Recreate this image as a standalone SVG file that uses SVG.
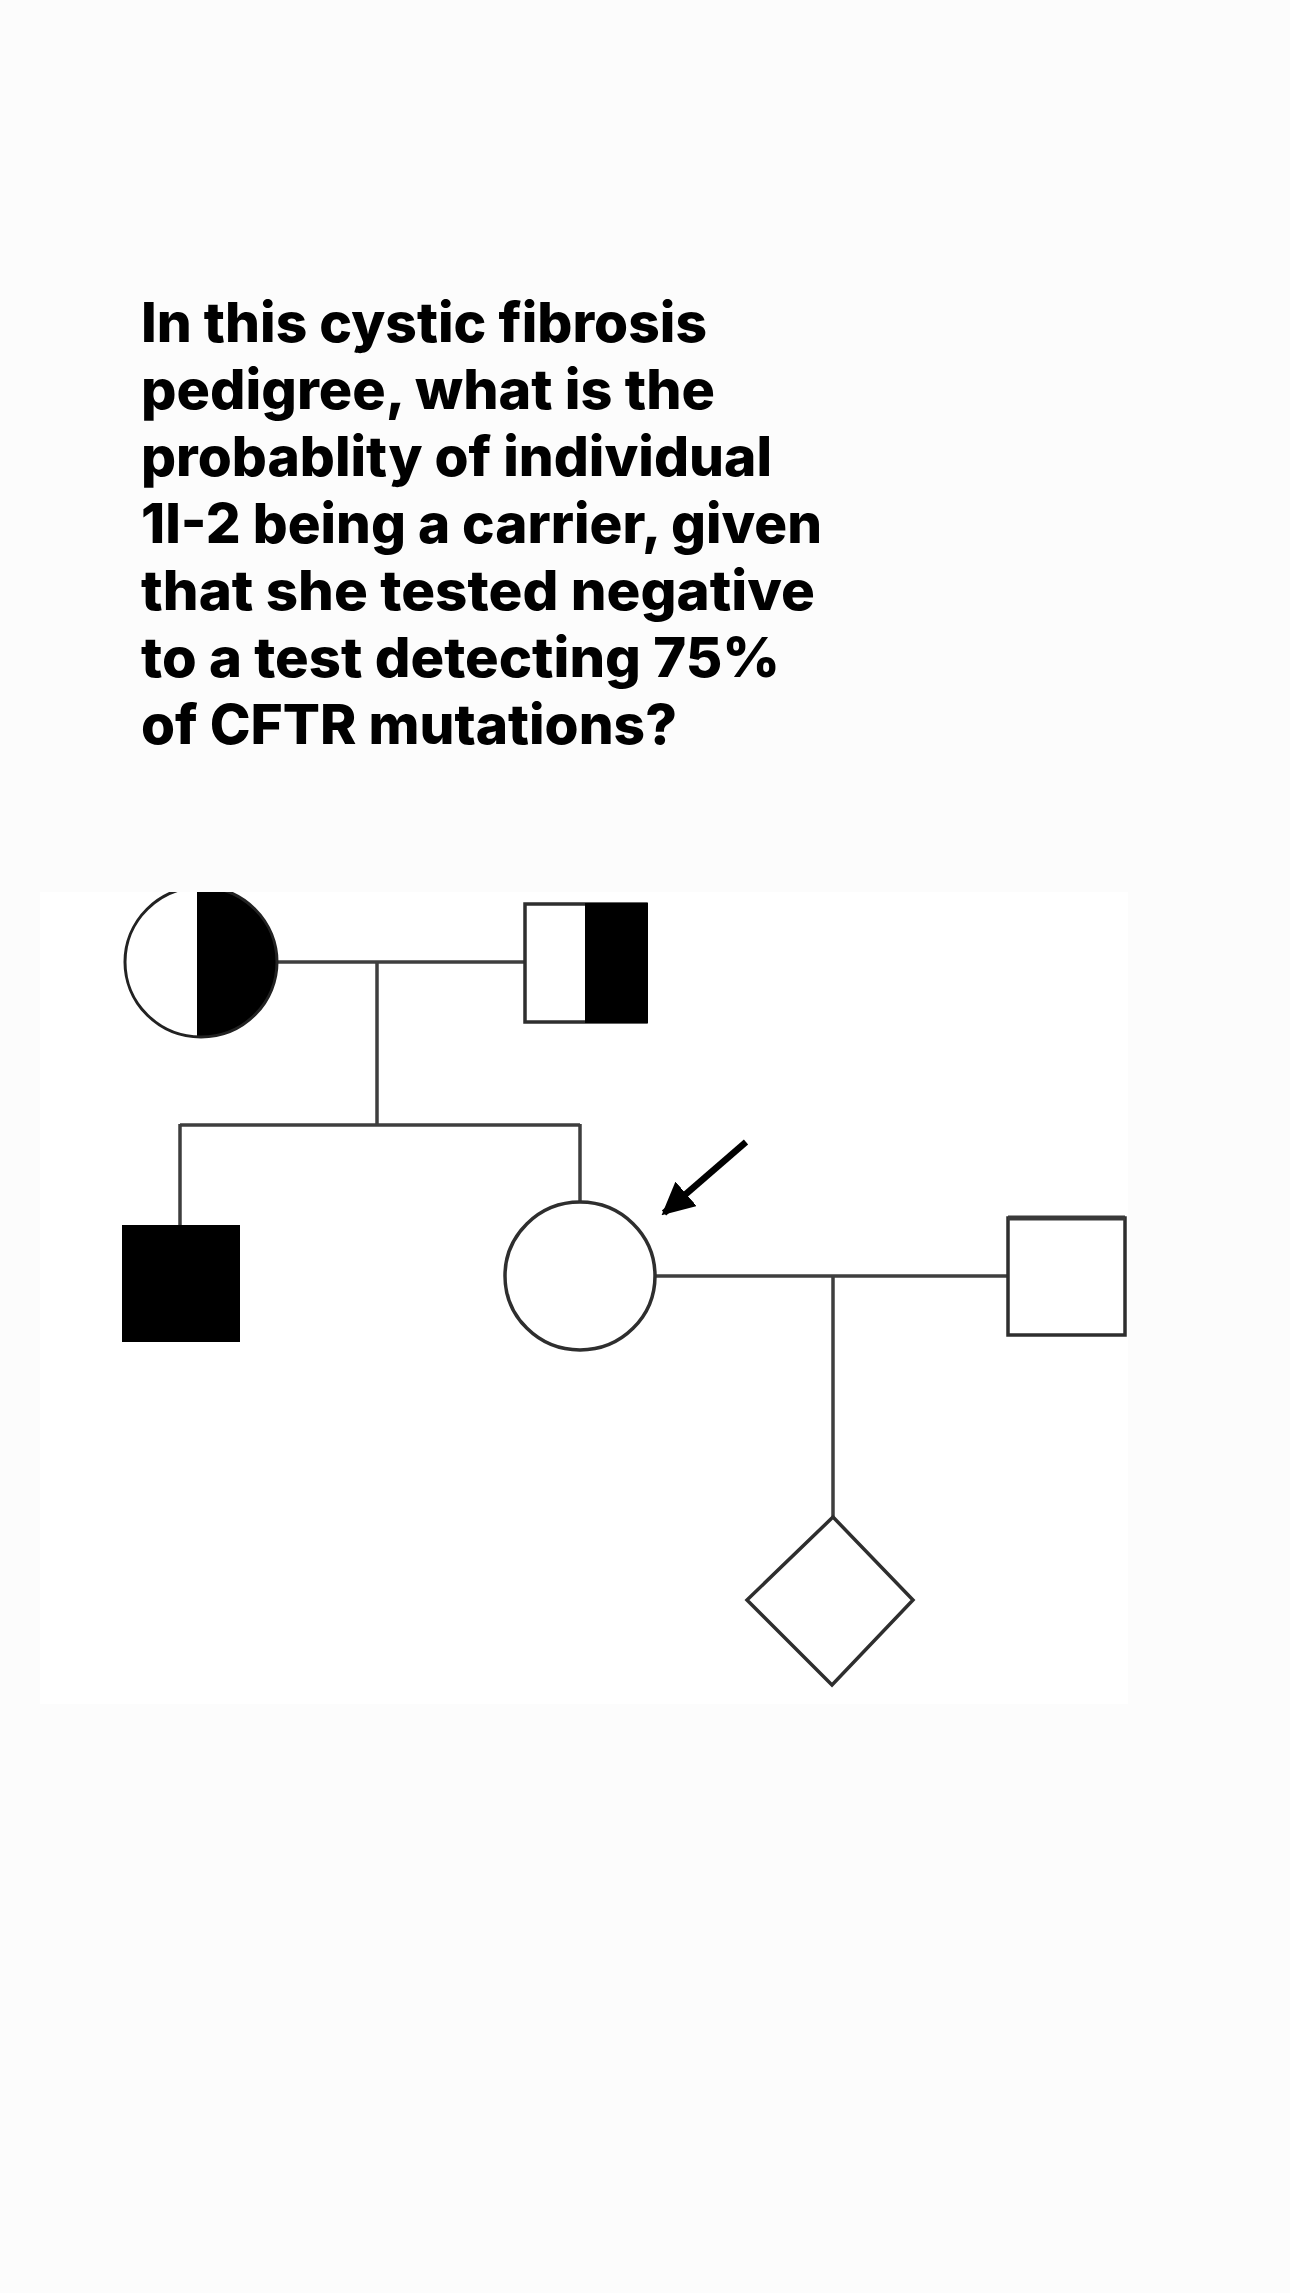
<svg xmlns="http://www.w3.org/2000/svg" width="1290" height="2293" viewBox="0 0 1290 2293">
<style>
.q{font-family:Inter,"Noto Sans","Liberation Sans",sans-serif;font-weight:800;font-size:55px;fill:#000}
.ln{stroke:#3e3e3e;stroke-width:3.5;fill:none}
.sh{stroke:#2e2e2e;stroke-width:3.5;fill:#fff}
.blk{fill:#000}
</style>
<defs>
<clipPath id="panel"><rect x="40" y="892" width="1088" height="812"/></clipPath>
<clipPath id="ell"><ellipse cx="201" cy="962" rx="76" ry="75"/></clipPath>
<marker id="ah" viewBox="0 0 10 10" refX="9" refY="5" markerWidth="5" markerHeight="5" orient="auto" markerUnits="strokeWidth"><path d="M0,0 L10,5 L0,10 z" fill="#000"/></marker>
</defs>
<rect width="1290" height="2293" fill="#fcfcfc"/>
<g id="question">
<text class="q" x="141" y="342" textLength="566" lengthAdjust="spacingAndGlyphs">In this cystic fibrosis</text>
<text class="q" x="141" y="409" textLength="574" lengthAdjust="spacingAndGlyphs">pedigree, what is the</text>
<text class="q" x="141" y="476" textLength="631" lengthAdjust="spacingAndGlyphs">probablity of individual</text>
<text class="q" x="141" y="543" textLength="681" lengthAdjust="spacingAndGlyphs">1I-2 being a carrier, given</text>
<text class="q" x="141" y="610" textLength="674" lengthAdjust="spacingAndGlyphs">that she tested negative</text>
<text class="q" x="141" y="677" textLength="639" lengthAdjust="spacingAndGlyphs">to a test detecting 75%</text>
<text class="q" x="141" y="744" textLength="536" lengthAdjust="spacingAndGlyphs">of CFTR mutations?</text>
</g>
<rect x="40" y="892" width="1088" height="812" fill="#fff"/>
<g id="connectors">
<line class="ln" x1="278" y1="962" x2="525" y2="962"/>
<line class="ln" x1="377" y1="962" x2="377" y2="1125"/>
<line class="ln" x1="180" y1="1125" x2="580" y2="1125"/>
<line class="ln" x1="180" y1="1124" x2="180" y2="1225"/>
<line class="ln" x1="580" y1="1124" x2="580" y2="1201"/>
<line class="ln" x1="655" y1="1276" x2="1008" y2="1276"/>
<line class="ln" x1="833" y1="1276" x2="833" y2="1517"/>
<line x1="746" y1="1142" x2="664" y2="1213" stroke="#000" stroke-width="6.5" marker-end="url(#ah)"/>
</g>
<g id="I-1" clip-path="url(#panel)">
<ellipse cx="201" cy="962" rx="76" ry="75" fill="#fff"/>
<rect class="blk" x="197" y="880" width="90" height="165" clip-path="url(#ell)"/>
<ellipse cx="201" cy="962" rx="76" ry="75" fill="none" stroke="#222" stroke-width="3"/>
</g>
<g id="I-2">
<rect class="sh" x="525" y="904" width="121" height="118"/>
<rect class="blk" x="585" y="903" width="63" height="120"/>
</g>
<g id="II-1">
<rect class="blk" x="122" y="1225" width="118" height="117"/>
</g>
<g id="II-2">
<ellipse class="sh" cx="580" cy="1276" rx="75" ry="74"/>
</g>
<g id="II-3">
<rect class="sh" x="1008" y="1218" width="117" height="117"/>
<line x1="1008" y1="1218" x2="1125" y2="1218" stroke="#3a3a3a" stroke-width="5"/>
</g>
<g id="III-1">
<polygon class="sh" points="833,1517 913,1600 832,1685 747,1600"/>
</g>
</svg>
